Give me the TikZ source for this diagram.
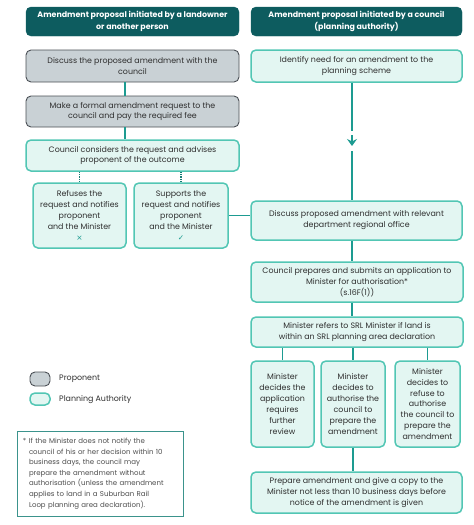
\documentclass[tikz,border=0pt]{standalone}
\usepackage{fontspec}
\setmainfont{Poppins}
\newfontfamily\symfont{DejaVu Sans}
\usetikzlibrary{arrows.meta}
\definecolor{hdr}{HTML}{0D5C5F}
\definecolor{grayfill}{HTML}{C9D1D5}
\definecolor{grayline}{HTML}{4A4F55}
\definecolor{tealfill}{HTML}{E3F6F2}
\definecolor{tealline}{HTML}{52C6B4}
\definecolor{conn}{HTML}{1D9B91}
\definecolor{txt}{HTML}{2E2E2E}
\tikzset{
  base/.style={rounded corners=5pt, align=center, inner sep=1pt, text=txt,
    font=\fontsize{7.9}{10.9}\selectfont},
  header/.style={base, fill=hdr, draw=hdr, text=white,
    font=\fontsize{7.9}{11.8}\selectfont\bfseries},
  propbox/.style={base, fill=grayfill, draw=grayline, line width=0.9pt},
  pabox/.style={base, fill=tealfill, draw=tealline, line width=1.5pt},
  conline/.style={draw=conn, line width=1.1pt},
  dotline/.style={draw=conn!80!black, line width=1.3pt, densely dotted},
}
\newcommand{\bx}[6]{% style, name, x1, y1, x2, y2 ; text follows
  \node[#1, minimum width={(#5-#3)*1pt}, minimum height={(#6-#4)*1pt}] (#2) at ({(#3+#5)/2},{(#4+#6)/2})}
\begin{document}
\begin{tikzpicture}[x=1pt,y=-1pt]
\useasboundingbox (0,0) rectangle (474,525);
% headers
\bx{header}{hL}{26}{7}{239}{36}{Amendment proposal initiated by a landowner\\or another person};
\bx{header}{hR}{251}{7}{462}{36}{Amendment proposal initiated by a council\\(planning authority)};
% left column
\bx{propbox}{L1}{26}{50}{239}{82}{Discuss the proposed amendment with the\\council};
\bx{propbox}{L2}{26}{96}{239}{127}{Make a formal amendment request to the\\council and pay the required fee};
\bx{pabox}{L3}{26}{140}{239}{171}{Council considers the request and advises\\proponent of the outcome};
\bx{pabox}{Ref}{33}{183}{126}{248}{Refuses the\\request and notifies\\proponent\\and the Minister\\{\color{conn}\symfont\fontsize{7.5}{10.9}\selectfont ×}};
\bx{pabox}{Sup}{134}{183}{228}{248}{Supports the\\request and notifies\\proponent\\and the Minister\\{\color{conn}\symfont\fontsize{7.5}{10.9}\selectfont ✓}};
% right column
\bx{pabox}{R1}{251}{50}{462}{82}{Identify need for an amendment to the\\planning scheme};
\bx{pabox}{R2}{251}{201}{462}{240}{Discuss proposed amendment with relevant\\department regional office};
\bx{pabox}{R3}{251}{262}{463}{302}{Council prepares and submits an application to\\Minister for authorisation*\\(s.16F(1))};
\bx{pabox}{R4}{251}{317}{463}{347}{Minister refers to SRL Minister if land is\\within an SRL planning area declaration};
\bx{pabox}{Ma}{251}{361}{314}{447}{Minister\\decides the\\application\\requires\\further\\review};
\bx{pabox}{Mb}{321}{361}{385}{447}{Minister\\decides to\\authorise the\\council to\\prepare the\\amendment};
\bx{pabox}{Mc}{395}{361}{460}{447}{Minister\\decides to\\refuse to\\authorise\\the council to\\prepare the\\amendment};
\bx{pabox}{R5}{251}{472}{462}{513}{Prepare amendment and give a copy to the\\Minister not less than 10 business days before\\notice of the amendment is given};
% legend
\bx{propbox}{lgP}{30}{372}{50}{386}{};
\bx{pabox}{lgA}{30}{393}{50}{405}{};
\node[base, anchor=west] (lgPt) at (58,379) {Proponent};
\node[base, anchor=west] (lgAt) at (58,399.5) {Planning Authority};
% footnote
\node[draw=conn!70!gray, line width=0.8pt, fill=white, minimum width=166pt, minimum height=85pt,
  align=left, inner xsep=6pt, inner ysep=0pt, text width=154pt, text=txt!85,
  font=\fontsize{7}{10.6}\selectfont] (fn) at (100,473.5)
  {\hyphenpenalty=10000\relax
   \makebox[6pt][l]{*}If the Minister does not notify the\\
   \hspace*{6pt}council of his or her decision within 10\\
   \hspace*{6pt}business days, the council may\\
   \hspace*{6pt}prepare the amendment without\\
   \hspace*{6pt}authorisation (unless the amendment\\
   \hspace*{6pt}applies to land in a Suburban Rail\\
   \hspace*{6pt}Loop planning area declaration).};
% connectors left
\draw[conline] ([xshift=-7.5pt]L1.south) -- ([xshift=-7.5pt]L2.north);
\draw[conline] ([xshift=-7.5pt]L2.south) -- ([xshift=-7.5pt]L3.north);
\draw[dotline] (Ref.north |- L3.south) -- (Ref.north);
\draw[dotline] (Sup.north |- L3.south) -- (Sup.north);
\draw[conline] (Sup.east) -- (Sup.east -| R2.west);
% connectors right
\coordinate (a1) at (352,131);
\coordinate (a2) at (352,135);
\coordinate (a3) at (352,146);
\coordinate (a4) at (352,151);
\draw[conline] ([xshift=-4.5pt]R1.south) -- (a1);
\draw[conline, line width=2pt, -{Stealth[length=7pt,width=10pt,inset=2.5pt]}] (a2) -- (a3);
\draw[conline] (a4) -- ([xshift=-4.5pt]R2.north);
\draw[conline] ([xshift=-4.5pt]R2.south) -- ([xshift=-5pt]R3.north);
\draw[conline] ([xshift=-5pt]R3.south) -- ([xshift=-5pt]R4.north);
\draw[conline] (Ma.north |- R4.south) -- (Ma.north);
\draw[conline] (Mb.north |- R4.south) -- (Mb.north);
\draw[conline] (Mc.north |- R4.south) -- (Mc.north);
\draw[conline] (Mb.south) -- (Mb.south |- R5.north);
\end{tikzpicture}
\end{document}
